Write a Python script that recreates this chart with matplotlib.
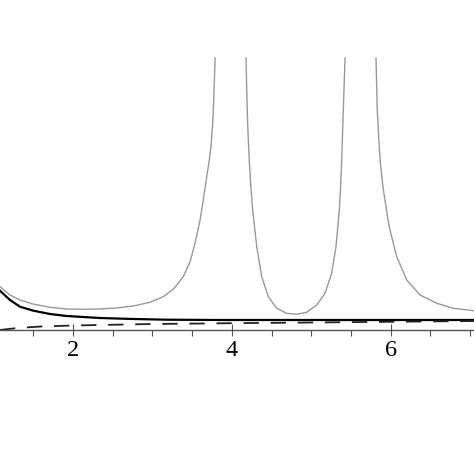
import numpy as np
import matplotlib.pyplot as plt
from matplotlib.ticker import FixedLocator

# gray curve; NaN splits the three branches
gray_x = [1.081, 1.207, 1.332, 1.496, 1.710, 1.921, 2.130, 2.340, 2.550, 2.759, 2.970,
          3.137, 3.263, 3.389, 3.474, 3.537, 3.600, 3.641, 3.684, 3.717, 3.740, 3.758,
          3.772, 3.790,
          np.nan,
          4.179, 4.188, 4.200, 4.220, 4.240, 4.263, 4.314, 4.377, 4.460, 4.566, 4.691, 4.817,
          4.943, 5.069, 5.174, 5.258, 5.312, 5.354, 5.370, 5.384, 5.404, 5.426,
          np.nan,
          5.816, 5.832, 5.848, 5.870, 5.900, 5.929, 5.963, 5.992, 6.077, 6.203, 6.370,
          6.581, 6.790, 7.050]
gray_y = [0.433, 0.35, 0.30, 0.26, 0.227, 0.21, 0.207, 0.21, 0.22, 0.24, 0.277,
          0.333, 0.407, 0.533, 0.683, 0.867, 1.10, 1.30, 1.533, 1.70, 1.85, 2.05,
          2.30, 2.72,
          np.nan,
          2.72, 2.40, 2.05, 1.70, 1.43, 1.20, 0.833, 0.533, 0.333, 0.217, 0.167, 0.157,
          0.177, 0.25, 0.367, 0.567, 0.833, 1.20, 1.43, 1.70, 2.20, 2.72,
          np.nan,
          2.72, 2.20, 1.95, 1.68, 1.45, 1.30, 1.12, 1.00, 0.733, 0.50, 0.35,
          0.267, 0.217, 0.193]

# black solid curve
black_x = [1.081, 1.207, 1.332, 1.501, 1.710, 1.921, 2.340, 2.759, 3.179, 3.851, 5.0, 7.05]
black_y = [0.393, 0.30, 0.233, 0.193, 0.16, 0.14, 0.12, 0.11, 0.103, 0.10, 0.10, 0.10]

# dashed curve
dash_x = [1.081, 1.3, 1.6, 2.0, 3.0, 4.0, 5.0, 6.0, 7.05]
dash_y = [0.0, 0.02, 0.035, 0.045, 0.06, 0.068, 0.075, 0.082, 0.09]

major_ticks = [2, 4, 6]
minor_ticks = [1.5, 2.5, 3, 3.5, 4.5, 5, 5.5, 6.5, 7]

fig = plt.figure(figsize=(4.74, 4.74), dpi=100)
ax = fig.add_axes([0, 0, 1, 1])

ax.plot(gray_x, gray_y, color='#999999', lw=1.0)
ax.plot(black_x, black_y, color='black', lw=1.6)
ax.plot(dash_x, dash_y, color='#222222', lw=1.3, dashes=(8.5, 6.5))

ax.set_xlim(1.081, 7.05)
ax.set_ylim(-1.44, 3.30)

for s in ['top', 'left', 'right']:
    ax.spines[s].set_visible(False)
ax.spines['bottom'].set_position(('data', 0))
ax.spines['bottom'].set_color('#555555')
ax.spines['bottom'].set_linewidth(1.0)

ax.xaxis.set_major_locator(FixedLocator(major_ticks))
ax.xaxis.set_minor_locator(FixedLocator(minor_ticks))
ax.set_xticklabels([str(t) for t in major_ticks], family='Liberation Serif', fontsize=17.5)
ax.tick_params(axis='x', which='major', direction='inout', length=8, width=0.8,
               color='#555555', pad=3)
ax.tick_params(axis='x', which='minor', direction='out', length=4, width=0.8,
               color='#555555')
ax.set_yticks([])

fig.savefig('out.png', dpi=100)
